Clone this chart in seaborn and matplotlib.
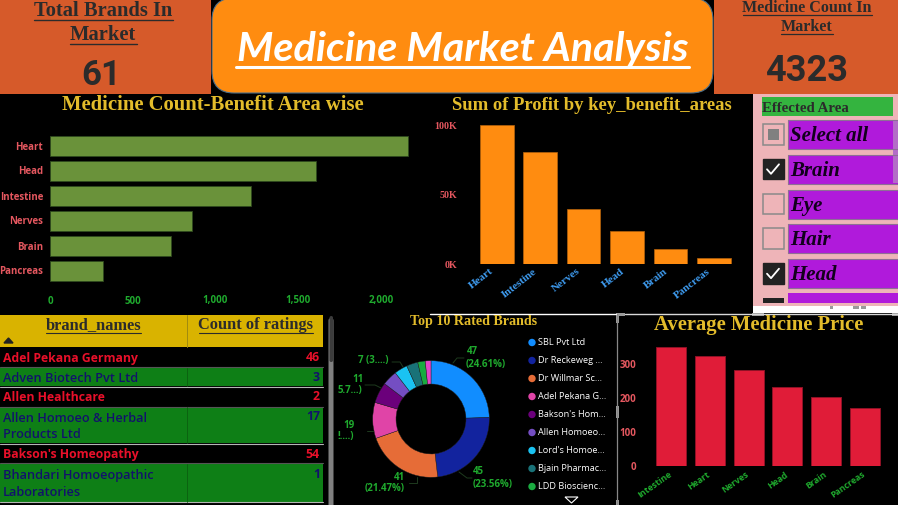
import matplotlib
matplotlib.use("Agg")
import matplotlib.pyplot as plt
from matplotlib.patches import Rectangle, FancyBboxPatch, Circle
from matplotlib.transforms import ScaledTranslation
import pandas as pd
import seaborn as sns

# chart data
area_names = ["Heart", "Head", "Intestine", "Nerves", "Brain", "Pancreas"]
area_counts = [2167, 1610, 1215, 860, 730, 318]

profit_names = ["Heart", "Intestine", "Nerves", "Head", "Brain", "Pancreas"]
profit_values = [100000, 80500, 39500, 23800, 11000, 4000]

price_names = ["Intestine", "Heart", "Nerves", "Head", "Brain", "Pancreas"]
price_values = [351, 323, 282, 231, 204, 169]

donut_values = [47, 45, 41, 19, 11, 8, 7, 6, 4, 3]
donut_colors = ["#118DFF", "#12239E", "#E66C37", "#E044A7", "#6B007B",
                "#744EC2", "#1AC3F2", "#197278", "#1AAB40", "#E645C8"]
legend_names = ["SBL Pvt Ltd", "Dr Reckeweg ...", "Dr Willmar Sc...", "Adel Pekana G...",
                "Bakson's Hom...", "Allen Homoeo...", "Lord's Homoe...", "Bjain Pharmac...",
                "LDD Bioscienc..."]

table_names = ["Adel Pekana Germany", "Adven Biotech Pvt Ltd", "Allen Healthcare",
               "Allen Homoeo & Herbal\nProducts Ltd", "Bakson's Homeopathy",
               "Bhandari Homoeopathic\nLaboratories"]
table_counts = [46, 3, 2, 17, 54, 1]

slicer_names = ["Select all", "Brain", "Eye", "Hair", "Head"]
slicer_state = ["partial", "on", "off", "off", "on"]

SERIF = "Liberation Serif"
SANS = "Open Sans"
W, H = 898, 505

sns.set_theme(style="dark")
plt.rcParams["font.family"] = [SANS, "DejaVu Sans"]

fig = plt.figure(figsize=(8.98, 5.05), dpi=100, facecolor="black")


def px_axes(x0, y0, x1, y1):
    # axes placed by pixel box, y measured from the top
    ax = fig.add_axes([x0 / W, 1 - y1 / H, (x1 - x0) / W, (y1 - y0) / H])
    ax.set_facecolor("none")
    for s in ax.spines.values():
        s.set_visible(False)
    ax.grid(False)
    return ax


def shift_labels(labels, dx):
    # move tick labels sideways by dx pixels
    off = ScaledTranslation(dx / 100, 0, fig.dpi_scale_trans)
    for t in labels:
        t.set_transform(t.get_transform() + off)


bg = px_axes(0, 0, W, H)
bg.set_xlim(0, W)
bg.set_ylim(H, 0)
bg.axis("off")


def box(x0, y0, x1, y1, color, **kw):
    bg.add_patch(Rectangle((x0, y0), x1 - x0, y1 - y0, facecolor=color, edgecolor="none", **kw))


# top cards
box(0, 0, 211, 94, "#D65A2A")
box(714, 0, W, 94, "#D65A2A")
bg.add_patch(FancyBboxPatch((212, -2), 501, 95, boxstyle="round,pad=0,rounding_size=22",
                            facecolor="#FF8C10", edgecolor="#4A6E8A", linewidth=0.8))

bg.text(103, 11, "Total Brands In", family=SERIF, weight="bold", size=14.8, color="#2B2B2B",
        ha="center", va="center")
bg.plot([34, 173], [20, 20], color="#2B2B2B", lw=1)
bg.text(103, 35, "Market", family=SERIF, weight="bold", size=14.8, color="#2B2B2B", ha="center", va="center")
bg.plot([70, 137], [43.5, 43.5], color="#2B2B2B", lw=1)
bg.text(101, 75.5, "61", family="Roboto", weight="bold", size=25, color="#2B2B2B", ha="center", va="center")

bg.text(807, 8, "Medicine Count In", family=SERIF, weight="bold", size=11.6, color="#2B2B2B",
        ha="center", va="center")
bg.plot([743, 872], [15, 15], color="#2B2B2B", lw=0.9)
bg.text(807, 27, "Market", family=SERIF, weight="bold", size=11.6, color="#2B2B2B", ha="center", va="center")
bg.plot([781, 833], [34, 34], color="#2B2B2B", lw=0.9)
bg.text(807, 71, "4323", family="Roboto", weight="bold", size=26, color="#2B2B2B", ha="center", va="center")

bg.text(463, 49, "Medicine Market Analysis", family="Lato", weight="bold", style="italic", size=29.8,
        color="white", ha="center", va="center")
bg.plot([236, 689], [66.5, 66.5], color="white", lw=2.2)

# panel titles
gold = "#E3BC2B"
bg.text(213, 105.5, "Medicine Count-Benefit Area wise", family=SERIF, weight="bold", size=14.9, color=gold,
        ha="center", va="center")
bg.text(592, 105.5, "Sum of Profit by key_benefit_areas", family=SERIF, weight="bold", size=13.45, color=gold,
        ha="center", va="center")
bg.text(473.5, 322, "Top 10 Rated Brands", family=SERIF, weight="bold", size=10.1, color=gold,
        ha="center", va="center")
bg.text(759, 325, "Average Medicine Price", family=SERIF, weight="bold", size=14.9, color=gold,
        ha="center", va="center")

# count by area, horizontal bars
ax1 = px_axes(50, 133, 420, 283)
df1 = pd.DataFrame({"area": area_names, "count": area_counts})
sns.barplot(data=df1, y="area", x="count", color="#6A923A", saturation=1, width=0.8,
            edgecolor="#2F4A1E", linewidth=0.6, ax=ax1)
ax1.set_xlim(0, 2237)
ax1.set_xticks([0, 500, 1000, 1500, 2000])
ax1.set_xticklabels(["0", "500", "1,000", "1,500", "2,000"])
ax1.set_xlabel("")
ax1.set_ylabel("")
ax1.tick_params(axis="x", colors="#1FAA2E", labelsize=7, length=0, pad=9)
ax1.tick_params(axis="y", colors="#E4575F", labelsize=7, length=0, pad=5)
for t in ax1.get_xticklabels() + ax1.get_yticklabels():
    t.set_fontweight("bold")

# profit columns
ax2 = px_axes(475.1, 120, 735.5, 264)
df2 = pd.DataFrame({"area": profit_names, "profit": profit_values})
sns.barplot(data=df2, x="area", y="profit", color="#FF8C10", saturation=1, width=0.776,
            edgecolor="#B5620C", linewidth=0.5, ax=ax2)
ax2.set_ylim(0, 103900)
ax2.set_yticks([0, 50000, 100000])
ax2.set_yticklabels(["0K", "50K", "100K"], family=SERIF, weight="bold")
ax2.set_xlabel("")
ax2.set_ylabel("")
ax2.tick_params(axis="y", colors="#E4575F", labelsize=7.2, length=0, pad=13)
ax2.tick_params(axis="x", colors="#3E9BEF", labelsize=8, length=0, pad=2)
for t in ax2.get_xticklabels():
    t.set(rotation=38, ha="right", rotation_mode="anchor", family=SERIF, weight="bold")
shift_labels(ax2.get_xticklabels(), -7)

# price columns
ax3 = px_axes(652, 330, 884, 465.7)
df3 = pd.DataFrame({"area": price_names, "price": price_values})
sns.barplot(data=df3, x="area", y="price", color="#E01C38", saturation=1, width=0.775,
            edgecolor="#8E1226", linewidth=0.7, ax=ax3)
ax3.set_xlim(-0.5, 5.5)
ax3.set_ylim(0, 135.7 / 33.9 * 100)
ax3.set_yticks([0, 100, 200, 300])
ax3.set_xlabel("")
ax3.set_ylabel("")
ax3.tick_params(axis="y", colors="#E4575F", labelsize=7, length=0, pad=11)
ax3.tick_params(axis="x", colors="#1FAA2E", labelsize=6.3, length=0, pad=3)
for t in ax3.get_yticklabels():
    t.set_fontweight("bold")
for t in ax3.get_xticklabels():
    t.set(rotation=35, ha="right", rotation_mode="anchor", fontweight="bold")
shift_labels(ax3.get_xticklabels(), -3)

# donut, sized so the ring is 58 px in radius
ax4 = px_axes(431 - 58.3, 419 - 58.3, 431 + 58.3, 419 + 58.3)
ax4.pie(donut_values, colors=donut_colors, startangle=90, counterclock=False, radius=1,
        wedgeprops={"width": 0.4, "linewidth": 0.3, "edgecolor": "#222222"})
ax4.set_xlim(-1, 1)
ax4.set_ylim(-1, 1)

green = "#1FAA2E"
leaders = [
    ([453, 457, 464], [363, 358, 358]),
    ([459, 467, 472], [472, 478, 478]),
    ([417, 417, 409], [477, 483, 483]),
    ([373, 367], [431, 431]),
    ([381, 375, 365], [388, 385, 385]),
    ([403, 400, 392], [367, 362, 362]),
]
for xs, ys in leaders:
    bg.plot(xs, ys, color="#1E3A1E", lw=0.7)
labels = [(472, 352, "47", "center"), (486, 364, "(24.61%)", "center"),
          (478, 472, "45", "center"), (493, 484, "(23.56%)", "center"),
          (399, 477, "41", "center"), (385, 489, "(21.47%)", "center"),
          (349, 425, "19", "center"), (338, 437, "!....)", "left"),
          (358, 379, "11", "center"), (338, 391, "5.7...)", "left"),
          (358, 361, "7 (3....)", "left")]
for x, y, s, ha in labels:
    bg.text(x, y, s, size=7, color=green, fontweight="bold", ha=ha, va="center")

# donut legend
for i, name in enumerate(legend_names):
    y = 342.5 + i * 18
    bg.add_patch(Circle((532, y), 3.7, facecolor=donut_colors[i], edgecolor="none"))
    bg.text(537.5, y, name, size=6.6, color="white", ha="left", va="center")
bg.fill([565, 578, 571.5], [497, 497, 503], facecolor="black", edgecolor="white", lw=0.8)

# slicer panel
box(753, 94, W, 306, "#EEB4B8")
box(753, 306, W, 313, "white")
box(762, 97, 893, 116, "#34B43F")
bg.text(762, 108, "Effected Area", family=SERIF, weight="bold", size=10.7, color="#2B2B2B", ha="left", va="center")
for i, (name, state) in enumerate(zip(slicer_names, slicer_state)):
    y0 = 120 + i * 34.8
    box(788, y0, W, y0 + 29, "#B01ADB")
    bg.plot([788, 788, W], [y0 + 29, y0, y0], color="#8E6E96", lw=0.8)
    bg.plot([788, W], [y0 + 29, y0 + 29], color="#8E6E96", lw=0.8)
    bg.text(790, y0 + 16, name, family=SERIF, style="italic", weight="bold",
            size=15, color="#12001C", ha="left", va="center")
    cb = (763, y0 + 4, 20.5, 20.5)
    if state == "on":
        bg.add_patch(Rectangle(cb[:2], cb[2], cb[3], facecolor="#222222", edgecolor="#222222"))
        bg.plot([767, 771, 779], [y0 + 14.5, y0 + 19, y0 + 9.5], color="white", lw=1.3)
    else:
        bg.add_patch(Rectangle(cb[:2], cb[2], cb[3], facecolor="none", edgecolor="#8A8A8A", lw=1.1))
        if state == "partial":
            box(768, y0 + 9, 778.5, y0 + 19.5, "#808080")
box(763, 298, 783.5, 303, "#222222")
box(788, 293, W, 303, "#B01ADB")
box(893, 120, W, 183, "#B46CC8")

# table
box(0, 315, 323, 347, "#D9B300")
bg.plot([186.5, 186.5], [315, 347], color="#A08A10", lw=0.7)
bg.text(93.5, 325, "brand_names", family=SERIF, weight="bold", size=11.8, color="#2B2B2B", ha="center", va="center")
bg.plot([46, 141], [332.5, 332.5], color="#2B2B2B", lw=0.8)
bg.text(255.5, 325, "Count of ratings", family=SERIF, weight="bold", size=11.8, color="#2B2B2B", ha="center", va="center")
bg.plot([198.5, 313], [332.5, 332.5], color="#2B2B2B", lw=0.8)
bg.fill([4, 13, 8.5], [343, 343, 338], color="#222222")

row_tops = [347.5, 367.5, 387, 407, 444, 464]
row_ends = [366, 386, 406, 443, 462, 501.5]
for i, (name, n) in enumerate(zip(table_names, table_counts)):
    top, end = row_tops[i], row_ends[i]
    odd = i % 2 == 1
    box(0, top, 323, end, "#0E7F16" if odd else "black")
    bg.plot([0, 323], [end + 0.5, end + 0.5], color="#B5B5B5" if odd else "#555555", lw=0.8)
    color = "#12126B" if odd else "#E8102A"
    size = 9.2 if odd else 8.8
    weight = "semibold" if odd else "bold"
    bg.text(3, top + (end - top) / 2 + 1.3, name, size=size, color=color, weight=weight, ha="left", va="center",
            linespacing=1.35)
    bg.text(320, top + 10, str(n), size=8.8, color=color, weight="bold", ha="right", va="center")
    if odd:
        bg.plot([186.5, 186.5], [top, end], color="#0B5E10", lw=0.6)

# table scrollbar
bg.add_patch(FancyBboxPatch((328.5, 318), 5, H, boxstyle="round,pad=0,rounding_size=2.5",
                            facecolor="#808080", edgecolor="none"))
bg.add_patch(FancyBboxPatch((329.5, 316), 3.5, 46, boxstyle="round,pad=0,rounding_size=1.7",
                            facecolor="#3C3C3C", edgecolor="none"))

# outlines and handles of the selected visuals
bg.plot([430, 616], [313.5, 313.5], color="white", lw=1)
bg.plot([625, 898], [313.5, 313.5], color="#D8D8D8", lw=1)
bg.plot([616.5, 616.5], [314, H], color="#888888", lw=0.9)
for x0, y0, x1, y1 in [(616, 313, 625, 316), (616, 315, 619, 323), (616, 406, 619, 418),
                       (616, 500, 619, H), (752, 313, 764, 316), (892, 313, W, 316),
                       (830, 306, 833, 309), (853, 306, 859, 309), (861, 306, 866, 309)]:
    box(x0, y0, x1, y1, "#9A9A9A")

fig.savefig("out.png", dpi=100, facecolor="black")
